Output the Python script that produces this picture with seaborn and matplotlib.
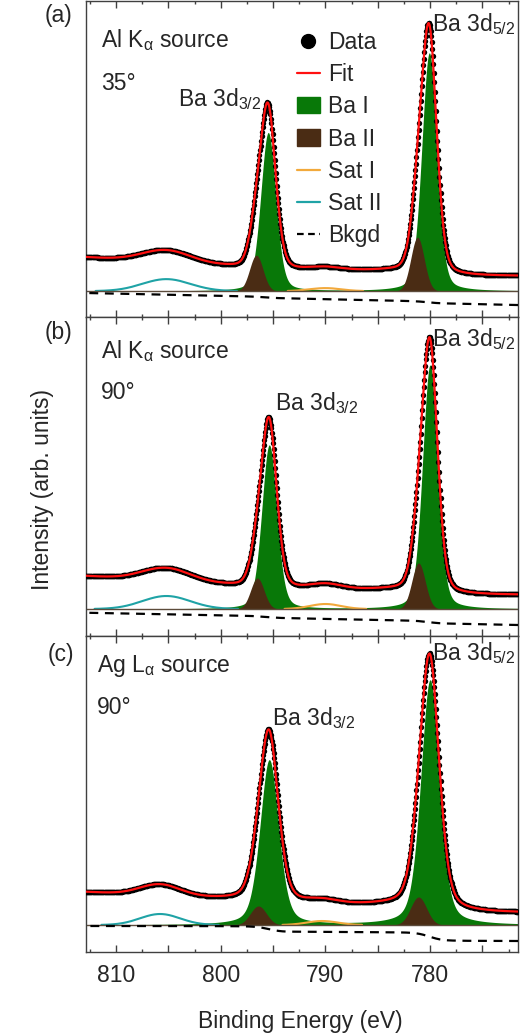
import numpy as np
import matplotlib
matplotlib.use("Agg")
import matplotlib.pyplot as plt
from matplotlib.ticker import MultipleLocator, AutoMinorLocator, FuncFormatter
from matplotlib.lines import Line2D
from matplotlib.patches import Patch
import seaborn as sns

# binding energy window (eV), drawn high -> low
e_left, e_right = 812.9, 771.6
e_step = 0.05

panel_tags = ["(a)", "(b)", "(c)"]
sources = ["Al K$_{α}$ source", "Al K$_{α}$ source", "Ag L$_{α}$ source"]
angles = ["35°", "90°", "90°"]

# fitted components, pairs are [3d3/2, 3d5/2]
ba1_pos = [[795.46, 780.07], [795.36, 780.0], [795.36, 780.0]]
ba1_height = [[159, 239], [164, 244], [165, 245]]
ba1_fwhm = [1.7, 1.7, 2.1]
ba1_eta = [0.25, 0.25, 0.35]
ba2_pos = [[796.6, 781.2], [796.5, 781.1], [796.4, 781.1]]
ba2_height = [[36, 54], [31, 46], [19, 28]]
ba2_fwhm = [1.5, 1.5, 1.8]
sat1_pos = [790.0, 790.0, 790.3]
sat1_height = [3, 5, 4]
sat1_fwhm = [3.5, 3.5, 3.5]
sat2_pos = [805.2, 805.2, 805.8]
sat2_height = [12, 13, 11]
sat2_fwhm = [5.4, 5.4, 4.5]

# background under the fit: low-BE level, Shirley step, loss slope above 798 eV
bg_right = [15, 14, 12]
bg_step = [9, 9, 13]
bg_loss = [0.68, 0.68, 0.54]
# dashed Bkgd as drawn (shifted below the components)
bk_right = [-14, -16, -16]
bk_step = [3, 4, 15]
bk_slope = [0.22, 0.2, 0.0]

ylims = [(-26, 291), (-27, 292), (-27, 289)]

green = "#087808"
brown = "#4a2c14"
orange = "#f2a93b"
teal = "#1fa3a6"
red = "#ff1010"


def pvoigt(e, pos, h, fwhm, eta):
    g = np.exp(-4 * np.log(2) * ((e - pos) / fwhm) ** 2)
    l = 1 / (1 + 4 * ((e - pos) / fwhm) ** 2)
    return h * (eta * l + (1 - eta) * g)


sns.set_style("ticks")
plt.rcParams["font.family"] = ["Liberation Sans", "DejaVu Sans"]
plt.rcParams["mathtext.fontset"] = "custom"
plt.rcParams["mathtext.rm"] = "Liberation Sans"
plt.rcParams["mathtext.it"] = "Liberation Sans"
plt.rcParams["mathtext.bf"] = "Liberation Sans:bold"
fs = 16.5

W, H = 520, 1034
fig = plt.figure(figsize=(W / 100, H / 100), dpi=100)


def px(x, y):
    return x / W, 1 - y / H


# axes boxes in pixels: top, bottom
boxes = [(1, 317), (317, 636), (636, 952)]
ax_l, ax_r = 85.7, 518
axes = []
for top, bot in boxes:
    axes.append(fig.add_axes([ax_l / W, 1 - bot / H, (ax_r - ax_l) / W, (bot - top) / H]))

E = np.arange(e_right, e_left + e_step / 2, e_step)

for i, ax in enumerate(axes):
    ba1 = sum(pvoigt(E, p, h, ba1_fwhm[i], ba1_eta[i]) for p, h in zip(ba1_pos[i], ba1_height[i]))
    ba2 = sum(pvoigt(E, p, h, ba2_fwhm[i], 0) for p, h in zip(ba2_pos[i], ba2_height[i]))
    sat1 = pvoigt(E, sat1_pos[i], sat1_height[i], sat1_fwhm[i], 0)
    sat2 = pvoigt(E, sat2_pos[i], sat2_height[i], sat2_fwhm[i], 0)
    shirley = np.cumsum(ba1 + ba2)
    shirley = shirley / shirley[-1]
    bg = bg_right[i] + bg_step[i] * shirley + bg_loss[i] * np.clip(E - 798, 0, None)
    fit = ba1 + ba2 + sat1 + sat2 + bg
    bkgd = bk_right[i] + bk_step[i] * shirley + bk_slope[i] * (E - E[0])

    # satellite curves vanish into the baseline away from their peak
    sat1_vis = np.where(sat1 > 0.15, sat1, np.nan)
    sat2_vis = np.where(sat2 > 0.15, sat2, np.nan)

    ax.fill_between(E, 0, ba1, color=green, lw=0, zorder=1)
    ax.fill_between(E, 0, ba2, color=brown, lw=0, zorder=2)
    sns.lineplot(x=E, y=sat1_vis, ax=ax, color=orange, lw=1.5, zorder=2.2)
    sns.lineplot(x=E, y=sat2_vis, ax=ax, color=teal, lw=1.5, zorder=2.2)
    ax.axhline(0, color="#5c4b3b", lw=1.0, zorder=2.5)
    sns.lineplot(x=E, y=bkgd, ax=ax, color="black", lw=1.6, zorder=3)
    ax.lines[-1].set_linestyle((0, (4, 3)))
    sns.scatterplot(x=E, y=fit, ax=ax, color="black", s=15, linewidth=0, zorder=4)
    sns.lineplot(x=E, y=fit, ax=ax, color=red, lw=1.6, zorder=5)

    ax.set_xlim(e_left, e_right)
    ax.set_ylim(*ylims[i])
    ax.set_yticks([])
    ax.set_ylabel("")
    ax.xaxis.set_major_locator(MultipleLocator(5))
    ax.xaxis.set_minor_locator(AutoMinorLocator(2))
    ax.xaxis.set_major_formatter(FuncFormatter(lambda v, p: f"{v:.0f}" if round(v) % 10 == 0 else ""))
    ax.tick_params(axis="x", which="both", direction="in", top=True, bottom=True,
                   color="#404040", labelsize=fs, pad=9)
    ax.tick_params(axis="x", which="major", length=5, width=1)
    ax.tick_params(axis="x", which="minor", length=2.5, width=1)
    for s in ax.spines.values():
        s.set_color("#404040")
        s.set_linewidth(1.0)
    if i < 2:
        ax.tick_params(axis="x", labelbottom=False)
    ax.set_xlabel("")

# texts (pixel positions, baseline)
tag_xy = [(58, 15.5), (58, 333), (60.5, 654)]
src_xy = [(101, 46.7), (101, 358.3), (97, 671.7)]
ang_xy = [(101, 90), (101, 399.3), (97, 714)]
d32_xy = [(178.3, 106), (275, 410), (271.7, 725)]
d52_xy = [(432, 30.7), (432, 345.7), (432, 660)]
for i in range(3):
    fig.text(*px(*tag_xy[i]), panel_tags[i], fontsize=fs, ha="center", va="center")
    fig.text(*px(*src_xy[i]), sources[i], fontsize=fs, ha="left", va="baseline")
    fig.text(*px(*ang_xy[i]), angles[i], fontsize=fs, ha="left", va="baseline")
    fig.text(*px(*d32_xy[i]), "Ba 3d$_{3/2}$", fontsize=fs, ha="left", va="baseline")
    fig.text(*px(*d52_xy[i]), "Ba 3d$_{5/2}$", fontsize=fs, ha="left", va="baseline")

axes[2].set_xlabel("Binding Energy (eV)", fontsize=fs)
axes[2].xaxis.set_label_coords(0.4957, -0.2405)
axes[2].xaxis.label.set_va("baseline")
axes[1].set_ylabel("Intensity (arb. units)", fontsize=fs)
axes[1].yaxis.set_label_coords(-0.0988, 0.4577)
axes[1].yaxis.label.set_va("center")

handles = [
    Line2D([], [], marker="o", ls="none", color="black", markersize=10, label="Data"),
    Line2D([], [], color=red, lw=1.6, label="Fit"),
    Patch(color=green, label="Ba I"),
    Patch(color=brown, label="Ba II"),
    Line2D([], [], color=orange, lw=1.6, label="Sat I"),
    Line2D([], [], color=teal, lw=1.6, label="Sat II"),
    Line2D([], [], color="black", lw=1.6, ls=(0, (3, 2)), label="Bkgd"),
]
axes[0].legend(handles=handles, loc="upper left", bbox_to_anchor=px(297, 31),
               bbox_transform=fig.transFigure, frameon=False, borderpad=0,
               borderaxespad=0, handlelength=1.0, handletextpad=0.35,
               labelspacing=0.4, fontsize=fs)

fig.savefig("out.png", dpi=100)
